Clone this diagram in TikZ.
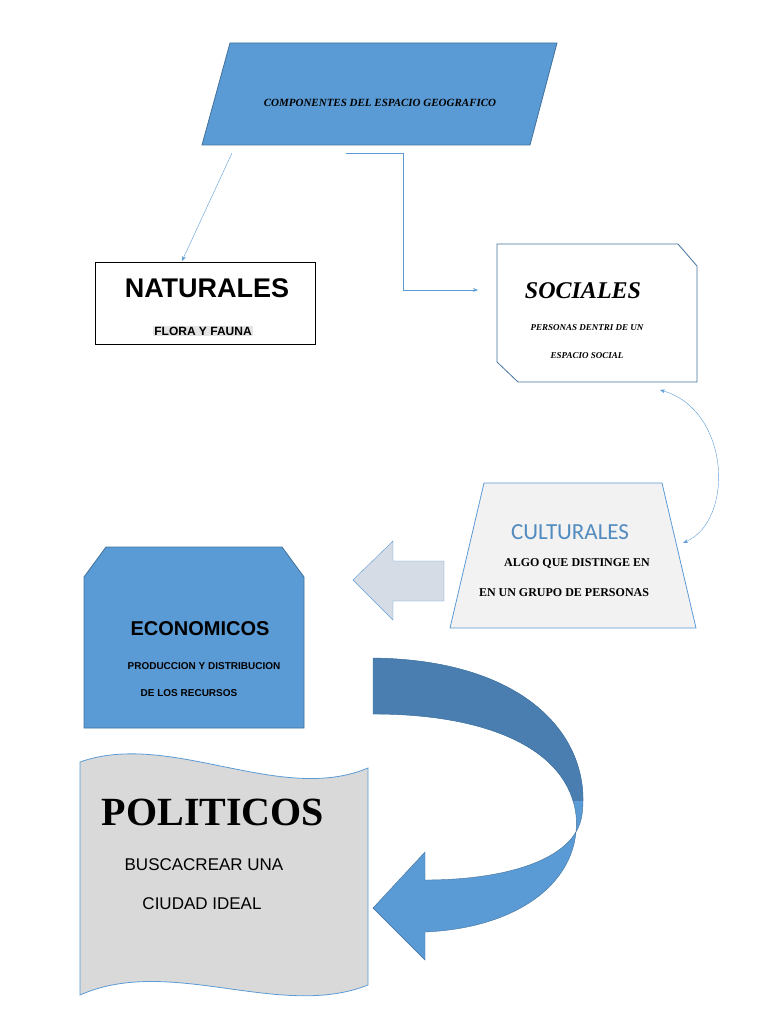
\documentclass[tikz,border=0pt]{standalone}
\usepackage{fontspec}
\setmainfont{Liberation Sans}
\newfontfamily\letrafont{Liberation Serif}
\newfontfamily\calfont{Carlito}
\usetikzlibrary{arrows.meta}
\definecolor{azul}{HTML}{5B9BD5}
\definecolor{azuloscuro}{HTML}{41719C}
\definecolor{azulbanda}{HTML}{4A7EB0}
\definecolor{gris}{HTML}{D9D9D9}
\definecolor{grisclaro}{HTML}{F2F2F2}
\definecolor{flecha}{HTML}{D6DCE5}
\tikzset{
  conector/.style={draw=azul, -{Stealth[length=5pt]}},
  forma/.style={draw=azuloscuro, line width=0.8pt},
  titulo/.style={font=\bfseries, inner sep=0pt}
}
\begin{document}
\begin{tikzpicture}[x=1pt,y=-1pt]
  \useasboundingbox (0,0) rectangle (768,1024);

  % componentes
  \draw[forma, fill=azul] (230,43) -- (557,43) -- (530,145) -- (202,145) -- cycle;
  \node[titulo] (comp) at (380,103) {\letrafont\itshape\fontsize{11}{13}\selectfont COMPONENTES DEL ESPACIO GEOGRAFICO};

  % naturales
  \draw[black] (95,262) rectangle (315,344);
  \node[titulo] (nat) at (207,288) {\fontsize{27}{30}\selectfont NATURALES};
  \node[titulo, fill=gris!70, inner sep=1pt] (flora) at (203,331) {\fontsize{12}{14}\selectfont FLORA Y FAUNA};

  % sociales
  \draw[forma] (497,244) -- (678,244) -- (697,266) -- (697,382) -- (518,382) -- (497,362) -- cycle;
  \node[titulo] (soc) at (583,291) {\letrafont\itshape\fontsize{24}{26}\selectfont SOCIALES};
  \node[titulo] (soc1) at (587,328) {\letrafont\itshape\fontsize{9}{11}\selectfont PERSONAS DENTRI DE UN};
  \node[titulo] (soc2) at (587,356) {\letrafont\itshape\fontsize{9}{11}\selectfont ESPACIO SOCIAL};

  % conectores superiores
  \coordinate (c1) at (232,153);
  \coordinate (c2) at (182,261);
  \coordinate (c3) at (346,153);
  \coordinate (c4) at (478,290);
  \draw[conector] (c1) -- (c2);
  \draw[conector] (c3) -| (403,290) -- (c4);

  % culturales
  \draw[forma, draw=azul, fill=grisclaro] (484,483) -- (662,483) -- (696,628) -- (450,628) -- cycle;
  \node[inner sep=0pt, text=azul!90!black] (cul) at (570,532) {\calfont\fontsize{23}{26}\selectfont CULTURALES};
  \node[titulo] (cul1) at (577,563) {\letrafont\fontsize{12}{14}\selectfont ALGO QUE DISTINGE EN};
  \node[titulo] (cul2) at (564,593) {\letrafont\fontsize{12}{14}\selectfont EN UN GRUPO DE PERSONAS};

  \coordinate (d1) at (660,390);
  \coordinate (d2) at (683,543);
  \draw[draw=azul, {Stealth[length=5pt]}-{Stealth[length=5pt]}] (d1) .. controls (730,410) and (735,520) .. (d2);

  % flecha izquierda
  \draw[draw=azul, fill=flecha] (444,561) -- (393,561) -- (393,541) -- (353,580) -- (393,620) -- (393,601) -- (444,601) -- cycle;

  % economicos
  \draw[forma, fill=azul] (106,547) -- (282,547) -- (304,577) -- (304,728) -- (84,728) -- (84,577) -- cycle;
  \node[titulo] (eco) at (200,629) {\fontsize{20}{23}\selectfont ECONOMICOS};
  \node[titulo] (eco1) at (204,666) {\fontsize{10}{12}\selectfont PRODUCCION Y DISTRIBUCION};
  \node[titulo] (eco2) at (189,693) {\fontsize{10}{12}\selectfont DE LOS RECURSOS};

  % banda curva
  \def\banda{(373,658) .. controls (530,660) and (592,740) .. (582,815) .. controls (575,862) and (500,880) .. (425,880) -- (425,852) -- (373,908) -- (425,960) -- (425,932) .. controls (520,928) and (582,880) .. (576,815) .. controls (568,750) and (490,714) .. (373,714) -- cycle}
  \fill[azul] \banda;
  \begin{scope}
    \clip (300,640) rectangle (620,800);
    \fill[azulbanda] \banda;
  \end{scope}
  \draw[azuloscuro] \banda;

  % politicos
  \draw[forma, draw=azul, fill=gris] (80,762) .. controls (170,730) and (280,805) .. (368,768) -- (368,985) .. controls (280,1020) and (170,955) .. (80,995) -- cycle;
  \node[titulo] (pol) at (213,812) {\letrafont\fontsize{40}{44}\selectfont POLITICOS};
  \node[inner sep=0pt] (pol1) at (204,865) {\fontsize{17}{20}\selectfont BUSCACREAR UNA};
  \node[inner sep=0pt] (pol2) at (202,904) {\fontsize{17}{20}\selectfont CIUDAD IDEAL};
\end{tikzpicture}
\end{document}
